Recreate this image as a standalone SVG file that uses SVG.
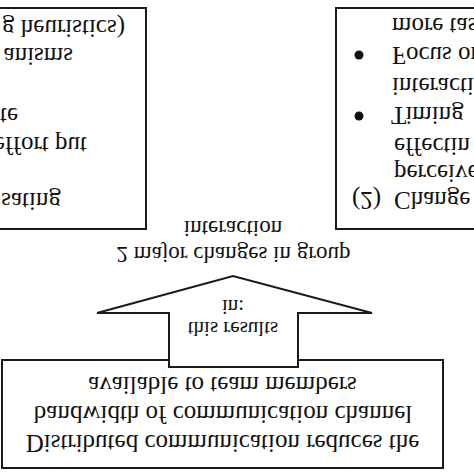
<svg xmlns="http://www.w3.org/2000/svg" width="474" height="474" viewBox="0 0 474 474">
<style>
.box{fill:#fff;stroke:#1a1a1a;stroke-width:2}
.t{font-family:"Liberation Serif","Times New Roman",serif;font-size:25px;fill:#111}
.m{font-family:"Liberation Serif","Times New Roman",serif;font-size:23px;fill:#111;text-anchor:middle}
.s{font-family:"Liberation Serif","Times New Roman",serif;font-size:21px;fill:#111;text-anchor:middle}
.c{text-anchor:middle}
.e{text-anchor:end}
</style>
<rect x="0" y="0" width="474" height="474" fill="#fff"/>
<g transform="matrix(1 0 0 -1 0 474)">
  <g id="source">
    <rect class="box" x="2" y="6" width="441" height="108"/>
    <text class="t c" x="222.5" y="39">Distributed communication reduces the</text>
    <text class="t c" x="223" y="68">bandwidth of communication channel</text>
    <text class="t c" x="222.5" y="97">available to team members</text>
  </g>
  <g id="connectors">
    <polygon class="box" points="169,107 298,107 298,161 372,161 233,198 97,161 169,161"/>
    <text class="s" x="233" y="152">this results</text>
    <text class="s" x="233" y="174">in:</text>
  </g>
  <g id="title">
    <text class="m" x="233.5" y="227">2 major changes in group</text>
    <text class="m" x="233" y="253">interaction</text>
  </g>
  <g id="change1">
    <rect class="box" x="-10" y="245" width="156" height="221"/>
    <text class="t e" x="61" y="281">sating</text>
    <text class="t e" x="87" y="337">effort put</text>
    <text class="t e" x="18" y="366">te</text>
    <text class="t e" x="73" y="426">anisms</text>
    <text class="t e" x="125" y="454">g heuristics)</text>
  </g>
  <g id="change2">
    <rect class="box" x="336" y="245" width="150" height="221"/>
    <text class="t" x="352" y="282">(2)</text>
    <text class="t" x="394" y="282">Change</text>
    <text class="t" x="394" y="309">perceive</text>
    <text class="t" x="394" y="336">effectin</text>
    <circle cx="359" cy="358" r="4.5" fill="#111"/>
    <text class="t" x="391" y="367">Timing</text>
    <text class="t" x="392" y="396">interacti</text>
    <circle cx="359" cy="419" r="4.5" fill="#111"/>
    <text class="t" x="392" y="427">Focus on</text>
    <text class="t" x="392" y="456">more tas</text>
  </g>
</g>
</svg>
